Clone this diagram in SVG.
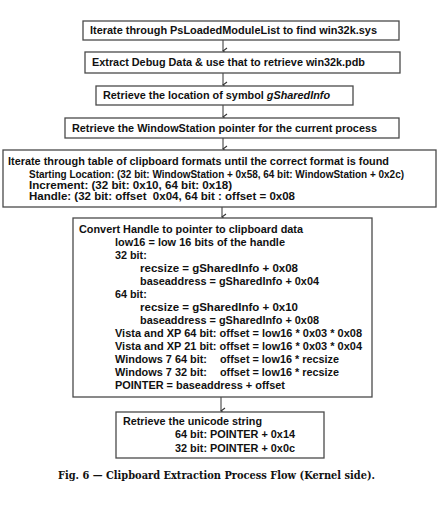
<svg xmlns="http://www.w3.org/2000/svg" width="445" height="507" viewBox="0 0 445 507">
<style>
.box{fill:#fff;stroke:#4a4a4a;stroke-width:1.3}
.t{font-family:"Liberation Sans",Arial,sans-serif;font-weight:bold;font-size:10.8px;fill:#111;white-space:pre}
.cap{font-family:"DejaVu Serif","Liberation Serif",serif;font-weight:bold;font-size:11.5px;fill:#111}
.c{stroke:#333;stroke-width:1;fill:none}
</style>
<defs>
<marker id="ah" markerWidth="8" markerHeight="8" refX="4" refY="6" orient="auto" markerUnits="userSpaceOnUse" viewBox="0 0 8 8">
<polyline points="1,2 4,6 7,2" fill="none" stroke="#333" stroke-width="1.1"/>
</marker>
</defs>
<rect width="445" height="507" fill="#fff"/>
<g id="connectors">
<line class="c" x1="223" y1="40" x2="223" y2="51" marker-end="url(#ah)"/>
<line class="c" x1="223" y1="73" x2="223" y2="85" marker-end="url(#ah)"/>
<line class="c" x1="223" y1="105" x2="223" y2="117" marker-end="url(#ah)"/>
<line class="c" x1="223" y1="138" x2="223" y2="149" marker-end="url(#ah)"/>
<line class="c" x1="222" y1="207" x2="222" y2="217" marker-end="url(#ah)"/>
<line class="c" x1="221" y1="397" x2="221" y2="411" marker-end="url(#ah)"/>
</g>
<g id="n1">
<rect class="box" x="83" y="21" width="316" height="19"/>
<text class="t" x="90" y="34" textLength="287" lengthAdjust="spacingAndGlyphs">Iterate through PsLoadedModuleList to find win32k.sys</text>
</g>
<g id="n2">
<rect class="box" x="85" y="52" width="315" height="21"/>
<text class="t" x="92" y="66" textLength="273" lengthAdjust="spacingAndGlyphs">Extract Debug Data &amp; use that to retrieve win32k.pdb</text>
</g>
<g id="n3">
<rect class="box" x="96" y="86" width="257" height="19"/>
<text class="t" x="103" y="99" textLength="227" lengthAdjust="spacingAndGlyphs">Retrieve the location of symbol <tspan font-style="italic">gSharedInfo</tspan></text>
</g>
<g id="n4">
<rect class="box" x="65" y="118" width="334" height="20"/>
<text class="t" x="72" y="132" textLength="305" lengthAdjust="spacingAndGlyphs">Retrieve the WindowStation pointer for the current process</text>
</g>
<g id="n5">
<rect class="box" x="3" y="150" width="433" height="57"/>
<text class="t" x="8" y="165" textLength="381" lengthAdjust="spacingAndGlyphs">Iterate through table of clipboard formats until the correct format is found</text>
<text class="t" x="29" y="178" textLength="375" lengthAdjust="spacingAndGlyphs">Starting Location: (32 bit: WindowStation + 0x58, 64 bit: WindowStation + 0x2c)</text>
<text class="t" x="29" y="189" textLength="203" lengthAdjust="spacingAndGlyphs">Increment: (32 bit: 0x10, 64 bit: 0x18)</text>
<text class="t" x="29" y="200" textLength="266" lengthAdjust="spacingAndGlyphs">Handle: (32 bit: offset  0x04, 64 bit : offset = 0x08</text>
</g>
<g id="n6">
<rect class="box" x="73" y="218" width="299" height="179"/>
<text class="t" x="79" y="233" textLength="224" lengthAdjust="spacingAndGlyphs">Convert Handle to pointer to clipboard data</text>
<text class="t" x="115" y="246" textLength="170" lengthAdjust="spacingAndGlyphs">low16 = low 16 bits of the handle</text>
<text class="t" x="115" y="259">32 bit:</text>
<text class="t" x="140" y="272" textLength="158" lengthAdjust="spacingAndGlyphs">recsize = gSharedInfo + 0x08</text>
<text class="t" x="140" y="285" textLength="179" lengthAdjust="spacingAndGlyphs">baseaddress = gSharedInfo + 0x04</text>
<text class="t" x="115" y="298">64 bit:</text>
<text class="t" x="140" y="311" textLength="158" lengthAdjust="spacingAndGlyphs">recsize = gSharedInfo + 0x10</text>
<text class="t" x="140" y="324" textLength="179" lengthAdjust="spacingAndGlyphs">baseaddress = gSharedInfo + 0x08</text>
<text class="t" x="115" y="337" textLength="247" lengthAdjust="spacingAndGlyphs">Vista and XP 64 bit: offset = low16 * 0x03 * 0x08</text>
<text class="t" x="115" y="350" textLength="247" lengthAdjust="spacingAndGlyphs">Vista and XP 21 bit: offset = low16 * 0x03 * 0x04</text>
<text class="t" x="115" y="363" textLength="92" lengthAdjust="spacingAndGlyphs">Windows 7 64 bit:</text>
<text class="t" x="220" y="363" textLength="119" lengthAdjust="spacingAndGlyphs">offset = low16 * recsize</text>
<text class="t" x="115" y="376" textLength="92" lengthAdjust="spacingAndGlyphs">Windows 7 32 bit:</text>
<text class="t" x="220" y="376" textLength="119" lengthAdjust="spacingAndGlyphs">offset = low16 * recsize</text>
<text class="t" x="115" y="389" textLength="170" lengthAdjust="spacingAndGlyphs">POINTER = baseaddress + offset</text>
</g>
<g id="n7">
<rect class="box" x="116" y="412" width="208" height="46"/>
<text class="t" x="123" y="425" textLength="139" lengthAdjust="spacingAndGlyphs">Retrieve the unicode string</text>
<text class="t" x="175" y="438" textLength="120" lengthAdjust="spacingAndGlyphs">64 bit: POINTER + 0x14</text>
<text class="t" x="175" y="452" textLength="120" lengthAdjust="spacingAndGlyphs">32 bit: POINTER + 0x0c</text>
</g>
<text class="cap" x="58" y="479" textLength="317" lengthAdjust="spacingAndGlyphs">Fig. 6 — Clipboard Extraction Process Flow (Kernel side).</text>
</svg>
